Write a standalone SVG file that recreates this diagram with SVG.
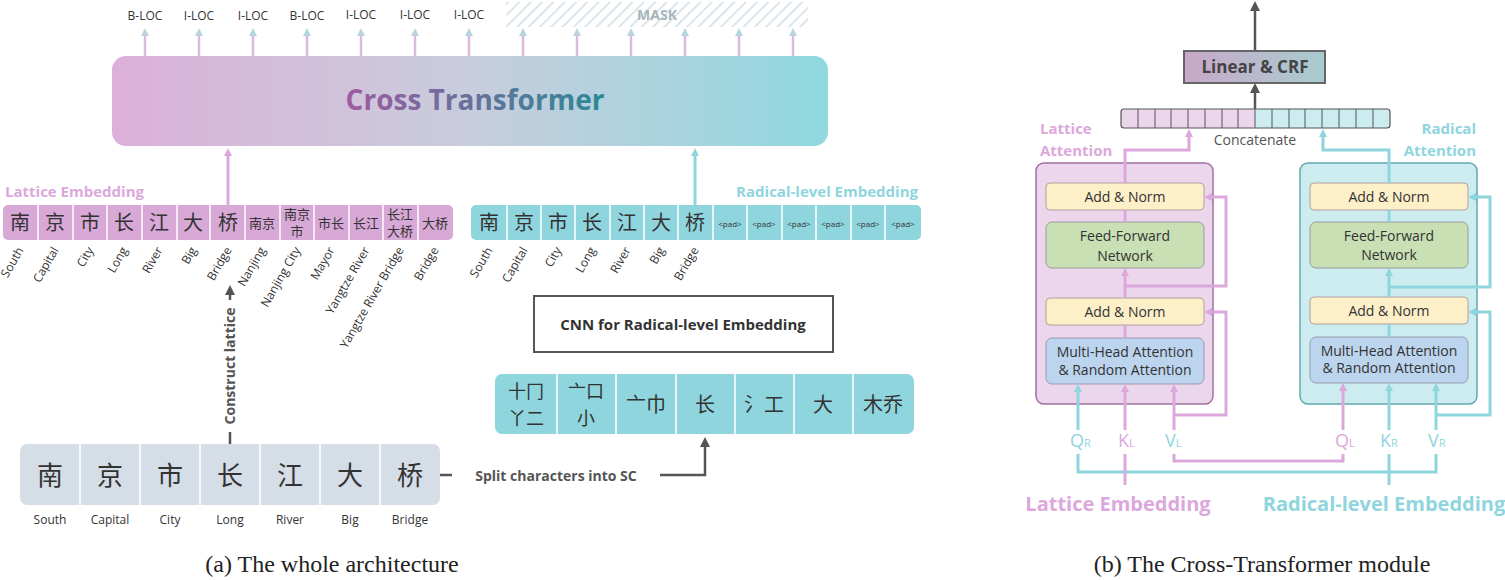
<svg xmlns="http://www.w3.org/2000/svg" width="1505" height="580" viewBox="0 0 1505 580">
<defs>
<linearGradient id="ct" x1="0" x2="1"><stop offset="0" stop-color="#dcb0da"/><stop offset="0.5" stop-color="#c8cddc"/><stop offset="1" stop-color="#90d8e0"/></linearGradient>
<linearGradient id="ctt" x1="0" x2="1"><stop offset="0" stop-color="#a05aa0"/><stop offset="1" stop-color="#2a8a96"/></linearGradient>
<linearGradient id="lc" x1="0" x2="1"><stop offset="0" stop-color="#c9a8c9"/><stop offset="1" stop-color="#a8ccd0"/></linearGradient>
<pattern id="hatch" width="8" height="8" patternUnits="userSpaceOnUse" patternTransform="rotate(45)"><rect width="8" height="8" fill="#fff"/><line x1="0" y1="0" x2="0" y2="8" stroke="#cfdde4" stroke-width="3"/></pattern>
<marker id="ab" markerWidth="8" markerHeight="8" refX="4" refY="4" orient="auto" markerUnits="userSpaceOnUse"><path d="M0,0 L8,4 L0,8 z" fill="#b8d4e0"/></marker>
<marker id="ap" markerWidth="8" markerHeight="8" refX="4" refY="4" orient="auto" markerUnits="userSpaceOnUse"><path d="M0,0 L8,4 L0,8 z" fill="#dca8dc"/></marker>
<marker id="ac" markerWidth="8" markerHeight="8" refX="4" refY="4" orient="auto" markerUnits="userSpaceOnUse"><path d="M0,0 L8,4 L0,8 z" fill="#8fd5de"/></marker>
<marker id="ag" markerWidth="10" markerHeight="10" refX="5" refY="5" orient="auto" markerUnits="userSpaceOnUse"><path d="M0,0 L10,5 L0,10 z" fill="#555"/></marker>
</defs>
<style>
text{font-family:"Open Sans","Liberation Sans",sans-serif;fill:#333}
.cjk{font-family:"Noto Sans CJK SC",sans-serif;font-size:20px;text-anchor:middle;fill:#333}
.sm{font-size:13px}
.md{font-size:18px}
.lg{font-size:26px}
.en{font-size:12px;text-anchor:end}
.b{font-weight:bold}
.p{stroke:#dca8dc;stroke-width:3;fill:none}
.c{stroke:#8fd5de;stroke-width:3;fill:none}
.g{stroke:#555;stroke-width:2.5;fill:none}
.sep{stroke:#fff;stroke-width:1.5}
.blk{font-size:14px;text-anchor:middle}
.serif{font-family:"Liberation Serif",serif;font-size:24px;text-anchor:middle;fill:#222}
</style>

<g id="mask"><rect x="506" y="2" width="302" height="25" fill="url(#hatch)"/><text x="657" y="20" font-size="14" class="b" text-anchor="middle" style="fill:#aab4bc">MASK</text></g>
<g id="outputs" font-size="12" text-anchor="middle">
<text x="145" y="20">B-LOC</text><text x="199" y="20">I-LOC</text><text x="253" y="20">I-LOC</text><text x="307" y="20">B-LOC</text><text x="361" y="19">I-LOC</text><text x="415" y="19">I-LOC</text><text x="469" y="19">I-LOC</text>
</g>
<g id="connectors">
<g stroke="#dcb8dc" stroke-width="2.5" marker-end="url(#ab)">
<line x1="145" y1="56" x2="145" y2="32"/><line x1="199" y1="56" x2="199" y2="32"/><line x1="253" y1="56" x2="253" y2="32"/><line x1="307" y1="56" x2="307" y2="32"/><line x1="361" y1="56" x2="361" y2="32"/><line x1="415" y1="56" x2="415" y2="32"/><line x1="469" y1="56" x2="469" y2="32"/><line x1="523" y1="56" x2="523" y2="32"/><line x1="577" y1="56" x2="577" y2="32"/><line x1="631" y1="56" x2="631" y2="32"/><line x1="685" y1="56" x2="685" y2="32"/><line x1="739" y1="56" x2="739" y2="32"/><line x1="793" y1="56" x2="793" y2="32"/>
</g>
<line class="p" x1="228" y1="205" x2="228" y2="152" marker-end="url(#ap)"/>
<line class="c" x1="695" y1="205" x2="695" y2="152" marker-end="url(#ac)"/>
<line class="g" x1="230" y1="444" x2="230" y2="432"/>
<line class="g" x1="230" y1="300" x2="230" y2="290" marker-end="url(#ag)"/>
<line class="g" x1="440" y1="475" x2="452" y2="475"/>
<polyline class="g" points="660,475 705,475 705,442" marker-end="url(#ag)"/>
<line class="g" x1="1255" y1="51" x2="1255" y2="6" marker-end="url(#ag)"/>
<line class="g" x1="1255" y1="109" x2="1255" y2="88" marker-end="url(#ag)"/>
</g>

<g id="cross-transformer"><rect x="112" y="56" width="716" height="90" rx="14" fill="url(#ct)"/><text x="475" y="110" font-size="28" class="b" text-anchor="middle" style="fill:url(#ctt)">Cross Transformer</text></g>

<g id="lattice-embedding">
<text x="5" y="197" font-size="15" class="b" style="fill:#dca8dc">Lattice Embedding</text>
<rect x="3" y="205" width="450" height="35" rx="5" fill="#d8a8d6"/>
<g class="sep"><line x1="38" y1="205" x2="38" y2="240"/><line x1="73" y1="205" x2="73" y2="240"/><line x1="107" y1="205" x2="107" y2="240"/><line x1="142" y1="205" x2="142" y2="240"/><line x1="177" y1="205" x2="177" y2="240"/><line x1="210" y1="205" x2="210" y2="240"/><line x1="245" y1="205" x2="245" y2="240"/><line x1="280" y1="205" x2="280" y2="240"/><line x1="314" y1="205" x2="314" y2="240"/><line x1="349" y1="205" x2="349" y2="240"/><line x1="383" y1="205" x2="383" y2="240"/><line x1="418" y1="205" x2="418" y2="240"/></g>
<text class="cjk" x="20" y="230">南</text><text class="cjk" x="55" y="230">京</text><text class="cjk" x="90" y="230">市</text><text class="cjk" x="124" y="230">长</text><text class="cjk" x="159" y="230">江</text><text class="cjk" x="193" y="230">大</text><text class="cjk" x="228" y="230">桥</text>
<text class="cjk sm" x="262" y="228">南京</text><text class="cjk sm" x="297" y="219">南京</text><text class="cjk sm" x="297" y="236">市</text><text class="cjk sm" x="331" y="228">市长</text><text class="cjk sm" x="366" y="228">长江</text><text class="cjk sm" x="400" y="219">长江</text><text class="cjk sm" x="400" y="236">大桥</text><text class="cjk sm" x="435" y="228">大桥</text>
<g class="en">
<text transform="translate(24,250) rotate(-60)">South</text><text transform="translate(59,250) rotate(-60)">Capital</text><text transform="translate(94,250) rotate(-60)">City</text><text transform="translate(128,250) rotate(-60)">Long</text><text transform="translate(163,250) rotate(-60)">River</text><text transform="translate(197,250) rotate(-60)">Big</text><text transform="translate(232,250) rotate(-60)">Bridge</text><text transform="translate(266,250) rotate(-60)">Nanjing</text><text transform="translate(301,250) rotate(-60)">Nanjing City</text><text transform="translate(335,250) rotate(-60)">Mayor</text><text transform="translate(370,250) rotate(-60)">Yangtze River</text><text transform="translate(404,250) rotate(-60)">Yangtze River Bridge</text><text transform="translate(439,250) rotate(-60)">Bridge</text>
</g>
</g>

<g id="radical-embedding">
<text x="918" y="197" font-size="15" class="b" text-anchor="end" style="fill:#8fd5de">Radical-level Embedding</text>
<rect x="471" y="205" width="450" height="35" rx="5" fill="#8fd5de"/>
<g class="sep"><line x1="507" y1="205" x2="507" y2="240"/><line x1="541" y1="205" x2="541" y2="240"/><line x1="575" y1="205" x2="575" y2="240"/><line x1="610" y1="205" x2="610" y2="240"/><line x1="644" y1="205" x2="644" y2="240"/><line x1="678" y1="205" x2="678" y2="240"/><line x1="713" y1="205" x2="713" y2="240"/><line x1="747" y1="205" x2="747" y2="240"/><line x1="782" y1="205" x2="782" y2="240"/><line x1="816" y1="205" x2="816" y2="240"/><line x1="851" y1="205" x2="851" y2="240"/><line x1="885" y1="205" x2="885" y2="240"/></g>
<text class="cjk" x="489" y="230">南</text><text class="cjk" x="524" y="230">京</text><text class="cjk" x="558" y="230">市</text><text class="cjk" x="592" y="230">长</text><text class="cjk" x="627" y="230">江</text><text class="cjk" x="661" y="230">大</text><text class="cjk" x="695" y="230">桥</text>
<g font-size="8" text-anchor="middle"><text x="730" y="227">&lt;pad&gt;</text><text x="764" y="227">&lt;pad&gt;</text><text x="799" y="227">&lt;pad&gt;</text><text x="833" y="227">&lt;pad&gt;</text><text x="868" y="227">&lt;pad&gt;</text><text x="903" y="227">&lt;pad&gt;</text></g>
<g class="en">
<text transform="translate(493,250) rotate(-60)">South</text><text transform="translate(528,250) rotate(-60)">Capital</text><text transform="translate(562,250) rotate(-60)">City</text><text transform="translate(596,250) rotate(-60)">Long</text><text transform="translate(631,250) rotate(-60)">River</text><text transform="translate(665,250) rotate(-60)">Big</text><text transform="translate(699,250) rotate(-60)">Bridge</text>
</g>
</g>

<g id="cnn"><rect x="534" y="296" width="299" height="56" fill="#fff" stroke="#555" stroke-width="2"/><text x="683" y="330" font-size="15" class="b" text-anchor="middle">CNN for Radical-level Embedding</text></g>

<g id="sc-row">
<rect x="495" y="374" width="419" height="60" rx="7" fill="#8fd5de"/>
<g class="sep"><line x1="557" y1="374" x2="557" y2="434"/><line x1="616" y1="374" x2="616" y2="434"/><line x1="676" y1="374" x2="676" y2="434"/><line x1="735" y1="374" x2="735" y2="434"/><line x1="794" y1="374" x2="794" y2="434"/><line x1="853" y1="374" x2="853" y2="434"/></g>
<text class="cjk md" x="526" y="398">十冂</text><text class="cjk md" x="526" y="425">丫二</text><text class="cjk md" x="586" y="398">亠口</text><text class="cjk md" x="586" y="425">小</text><text class="cjk" x="646" y="412">亠巾</text><text class="cjk" x="705" y="412">长</text><text class="cjk" x="764" y="412">氵工</text><text class="cjk" x="823" y="412">大</text><text class="cjk" x="883" y="412">木乔</text>
</g>

<g id="construct-label"><text transform="translate(235,366) rotate(-90)" font-size="14" class="b" text-anchor="middle" style="fill:#555">Construct lattice</text></g>
<g id="split-label"><text x="556" y="481" font-size="14" class="b" text-anchor="middle" style="fill:#555">Split characters into SC</text></g>

<g id="chars">
<rect x="20" y="444" width="420" height="61" rx="7" fill="#d5dde6"/>
<g class="sep"><line x1="80" y1="444" x2="80" y2="505"/><line x1="140" y1="444" x2="140" y2="505"/><line x1="200" y1="444" x2="200" y2="505"/><line x1="260" y1="444" x2="260" y2="505"/><line x1="320" y1="444" x2="320" y2="505"/><line x1="380" y1="444" x2="380" y2="505"/></g>
<text class="cjk lg" x="50" y="485">南</text><text class="cjk lg" x="110" y="485">京</text><text class="cjk lg" x="170" y="485">市</text><text class="cjk lg" x="230" y="485">长</text><text class="cjk lg" x="290" y="485">江</text><text class="cjk lg" x="350" y="485">大</text><text class="cjk lg" x="410" y="485">桥</text>
<g font-size="12" text-anchor="middle"><text x="50" y="524">South</text><text x="110" y="524">Capital</text><text x="170" y="524">City</text><text x="230" y="524">Long</text><text x="290" y="524">River</text><text x="350" y="524">Big</text><text x="410" y="524">Bridge</text></g>
</g>

<text class="serif" x="332" y="572">(a) The whole architecture</text>
<text class="serif" x="1262" y="572">(b) The Cross-Transformer module</text>

<g id="linear-crf"><rect x="1184" y="51" width="141" height="32" fill="url(#lc)" stroke="#666" stroke-width="2"/><text x="1255" y="73" font-size="17" class="b" text-anchor="middle" style="fill:#444">Linear &amp; CRF</text></g>
<g id="concat">
<rect x="1121" y="109" width="134" height="19" rx="3" fill="#ecd6ec"/><rect x="1255" y="109" width="135" height="19" rx="3" fill="#cdecf0"/>
<rect x="1121" y="109" width="269" height="19" rx="3" fill="none" stroke="#555" stroke-width="1.2"/>
<g stroke="#555" stroke-width="1"><line x1="1138" y1="109" x2="1138" y2="128"/><line x1="1155" y1="109" x2="1155" y2="128"/><line x1="1171" y1="109" x2="1171" y2="128"/><line x1="1188" y1="109" x2="1188" y2="128"/><line x1="1205" y1="109" x2="1205" y2="128"/><line x1="1222" y1="109" x2="1222" y2="128"/><line x1="1238" y1="109" x2="1238" y2="128"/><line x1="1255" y1="109" x2="1255" y2="128"/><line x1="1272" y1="109" x2="1272" y2="128"/><line x1="1289" y1="109" x2="1289" y2="128"/><line x1="1305" y1="109" x2="1305" y2="128"/><line x1="1322" y1="109" x2="1322" y2="128"/><line x1="1339" y1="109" x2="1339" y2="128"/><line x1="1356" y1="109" x2="1356" y2="128"/><line x1="1373" y1="109" x2="1373" y2="128"/></g>
<text x="1255" y="145" font-size="14" text-anchor="middle" style="fill:#555">Concatenate</text>
</g>
<g id="labels-b" font-size="15" class="b">
<text x="1040" y="134" style="fill:#dca8dc">Lattice</text><text x="1040" y="156" style="fill:#dca8dc">Attention</text>
<text x="1476" y="134" text-anchor="end" style="fill:#8fd5de">Radical</text><text x="1476" y="156" text-anchor="end" style="fill:#8fd5de">Attention</text>
</g>

<g id="lattice-block">
<rect x="1036" y="163" width="177" height="241" rx="8" fill="#ecd6ec" stroke="#a070a0" stroke-width="1.5"/>
<rect x="1046" y="183" width="158" height="27" rx="4" fill="#fdefc8" stroke="#b0a0a0"/>
<rect x="1046" y="222" width="158" height="46" rx="6" fill="#c8e0b4" stroke="#9a9a9a"/>
<rect x="1046" y="298" width="158" height="27" rx="4" fill="#fdefc8" stroke="#b0a0a0"/>
<rect x="1046" y="338" width="158" height="46" rx="6" fill="#bcd4ee" stroke="#9a9ab0"/>
<text class="blk" x="1125" y="202">Add &amp; Norm</text>
<text class="blk" x="1125" y="241">Feed-Forward</text><text class="blk" x="1125" y="261">Network</text>
<text class="blk" x="1125" y="317">Add &amp; Norm</text>
<text class="blk" x="1125" y="357" font-size="12">Multi-Head Attention</text><text class="blk" x="1125" y="375" font-size="12">&amp; Random Attention</text>
</g>
<g id="radical-block">
<rect x="1300" y="163" width="177" height="241" rx="8" fill="#cdecf0" stroke="#60a8b0" stroke-width="1.5"/>
<rect x="1310" y="183" width="158" height="27" rx="4" fill="#fdefc8" stroke="#b0a0a0"/>
<rect x="1310" y="222" width="158" height="46" rx="6" fill="#c8e0b4" stroke="#9a9a9a"/>
<rect x="1310" y="297" width="158" height="27" rx="4" fill="#fdefc8" stroke="#b0a0a0"/>
<rect x="1310" y="337" width="158" height="46" rx="6" fill="#bcd4ee" stroke="#9a9ab0"/>
<text class="blk" x="1389" y="202">Add &amp; Norm</text>
<text class="blk" x="1389" y="241">Feed-Forward</text><text class="blk" x="1389" y="260">Network</text>
<text class="blk" x="1389" y="316">Add &amp; Norm</text>
<text class="blk" x="1389" y="356" font-size="12">Multi-Head Attention</text><text class="blk" x="1389" y="373" font-size="12">&amp; Random Attention</text>
</g>

<g id="connectors-b">
<polyline class="p" points="1125,183 1125,150 1189,150 1189,133" marker-end="url(#ap)"/>
<polyline class="c" points="1389,183 1389,150 1323,150 1323,133" marker-end="url(#ac)"/>
<line class="p" x1="1125" y1="210" x2="1125" y2="222"/>
<line class="p" x1="1125" y1="298" x2="1125" y2="272" marker-end="url(#ap)"/>
<line class="p" x1="1125" y1="325" x2="1125" y2="338"/>
<polyline class="p" points="1125,286 1226,286 1226,197 1208,197" marker-end="url(#ap)"/>
<polyline class="p" points="1174,415 1226,415 1226,312 1208,312" marker-end="url(#ap)"/>
<line class="c" x1="1389" y1="210" x2="1389" y2="222"/>
<line class="c" x1="1389" y1="297" x2="1389" y2="272" marker-end="url(#ac)"/>
<line class="c" x1="1389" y1="324" x2="1389" y2="337"/>
<polyline class="c" points="1389,287 1490,287 1490,197 1472,197" marker-end="url(#ac)"/>
<polyline class="c" points="1436,415 1490,415 1490,312 1472,312" marker-end="url(#ac)"/>
<line class="c" x1="1078" y1="430" x2="1078" y2="388" marker-end="url(#ac)"/>
<line class="p" x1="1125" y1="430" x2="1125" y2="388" marker-end="url(#ap)"/>
<line class="p" x1="1174" y1="430" x2="1174" y2="388" marker-end="url(#ap)"/>
<line class="p" x1="1343" y1="430" x2="1343" y2="387" marker-end="url(#ap)"/>
<line class="c" x1="1389" y1="430" x2="1389" y2="387" marker-end="url(#ac)"/>
<line class="c" x1="1436" y1="430" x2="1436" y2="387" marker-end="url(#ac)"/>
<polyline class="c" points="1078,454 1078,472 1436,472 1436,454"/>
<line class="c" x1="1389" y1="454" x2="1389" y2="485"/>
<polyline class="p" points="1174,454 1174,461 1343,461 1343,454"/>
<line class="p" x1="1125" y1="454" x2="1125" y2="485"/>
</g>
<g id="qkv" font-size="18">
<text x="1070" y="447" style="fill:#8fd5de">Q<tspan font-size="11">R</tspan></text>
<text x="1118" y="447" style="fill:#dca8dc">K<tspan font-size="11">L</tspan></text>
<text x="1165" y="447" style="fill:#8fd5de">V<tspan font-size="11">L</tspan></text>
<text x="1335" y="447" style="fill:#dca8dc">Q<tspan font-size="11">L</tspan></text>
<text x="1380" y="447" style="fill:#8fd5de">K<tspan font-size="11">R</tspan></text>
<text x="1428" y="447" style="fill:#8fd5de">V<tspan font-size="11">R</tspan></text>
</g>
<text x="1118" y="511" font-size="20" class="b" text-anchor="middle" style="fill:#dca8dc">Lattice Embedding</text>
<text x="1384" y="511" font-size="20" class="b" text-anchor="middle" style="fill:#8fd5de">Radical-level Embedding</text>
</svg>
